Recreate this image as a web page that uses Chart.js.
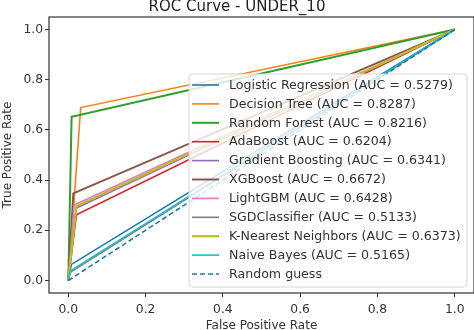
<!DOCTYPE html>
<html>
<head>
<meta charset="utf-8">
<script src="https://cdn.jsdelivr.net/npm/chart.js@4.4.1/dist/chart.umd.min.js"></script>
<style>
  html, body { margin: 0; padding: 0; background: #fff; }
  #wrap { width: 474px; height: 330px; }
</style>
</head>
<body>
<div id="wrap"><canvas id="rocChart"></canvas></div>
<script>
// ROC data
const models = ['Logistic Regression', 'Decision Tree', 'Random Forest', 'AdaBoost',
  'Gradient Boosting', 'XGBoost', 'LightGBM', 'SGDClassifier', 'K-Nearest Neighbors', 'Naive Bayes'];
const aucs = [0.5279, 0.8287, 0.8216, 0.6204, 0.6341, 0.6672, 0.6428, 0.5133, 0.6373, 0.5165];
const fprs = [
  [0, 0.008, 1], [0, 0.032, 1], [0, 0.0085, 1], [0, 0.021, 1], [0, 0.02, 1],
  [0, 0.013, 1], [0, 0.015, 1], [0, 0.005, 1], [0, 0.021, 1], [0, 0.005, 1]
];
const tprs = [
  [0, 0.064, 1], [0, 0.689, 1], [0, 0.652, 1], [0, 0.262, 1], [0, 0.288, 1],
  [0, 0.347, 1], [0, 0.301, 1], [0, 0.032, 1], [0, 0.296, 1], [0, 0.038, 1]
];
const guessX = [0, 1];
const guessY = [0, 1];
const tickValues = [0, 0.2, 0.4, 0.6, 0.8, 1.0];

const colors = ['#1f77b4', '#ff7f0e', '#2ca02c', '#d62728', '#9467bd',
  '#8c564b', '#e377c2', '#7f7f7f', '#bcbd22', '#17becf'];
const widths = [1.6, 1.6, 2, 1.6, 1.6, 2, 1.6, 1.6, 2.2, 1.6];

const FONT = 'DejaVu Sans';
const FS = 12.3;
const TXT = '#333';

const datasets = models.map((m, i) => ({
  label: m + ' (AUC = ' + aucs[i].toFixed(4) + ')',
  data: fprs[i].map((x, j) => ({ x: x, y: tprs[i][j] })),
  borderColor: colors[i],
  borderWidth: widths[i],
  showLine: true,
  pointRadius: 0,
  order: -i
}));
datasets.push({
  label: 'Random guess',
  data: guessX.map((x, j) => ({ x: x, y: guessY[j] })),
  borderColor: '#1f77b4',
  borderWidth: 1.6,
  borderDash: [5, 3],
  showLine: true,
  pointRadius: 0,
  order: -20
});

// axes box + legend inside plot
const boxAndLegend = {
  id: 'boxAndLegend',
  afterDatasetsDraw(chart) {
    const ctx = chart.ctx;
    const a = chart.chartArea;
    ctx.save();
    ctx.strokeStyle = '#333';
    ctx.lineWidth = 1.2;
    ctx.strokeRect(a.left, a.top, a.right - a.left, a.bottom - a.top);

    const bx = 189, by = 74, bw = 278, bh = 213, r = 3;
    ctx.beginPath();
    ctx.roundRect(bx, by, bw, bh, r);
    ctx.fillStyle = 'rgba(255,255,255,0.8)';
    ctx.fill();
    ctx.strokeStyle = '#d6d6d6';
    ctx.lineWidth = 1;
    ctx.stroke();

    ctx.font = '12.6px "' + FONT + '"';
    ctx.textBaseline = 'middle';
    ctx.textAlign = 'left';
    chart.data.datasets.forEach((ds, i) => {
      const y = 85 + i * 18.9;
      ctx.beginPath();
      ctx.setLineDash(ds.borderDash || []);
      ctx.strokeStyle = ds.borderColor;
      ctx.lineWidth = ds.borderWidth;
      ctx.moveTo(192, y);
      ctx.lineTo(219, y);
      ctx.stroke();
      ctx.setLineDash([]);
      ctx.fillStyle = TXT;
      ctx.fillText(ds.label, 229, y + 0.5);
    });
    ctx.restore();
  }
};

new Chart(document.getElementById('rocChart'), {
  type: 'scatter',
  data: { datasets: datasets },
  options: {
    responsive: true,
    maintainAspectRatio: false,
    animation: false,
    layout: { padding: 0 },
    plugins: {
      legend: { display: false },
      tooltip: { enabled: false },
      title: {
        display: true,
        text: 'ROC Curve - UNDER_10',
        color: '#222',
        font: { family: FONT, size: 15, weight: 'normal', lineHeight: 1 },
        padding: { top: 0, bottom: 2 }
      }
    },
    scales: {
      x: {
        type: 'linear',
        min: -0.05,
        max: 1.05,
        afterBuildTicks: s => { s.ticks = tickValues.map(v => ({ value: v })); },
        afterFit: s => { s.height = 37; },
        border: { display: false },
        grid: { drawOnChartArea: false, drawTicks: true, tickLength: 4, color: '#333' },
        ticks: {
          color: TXT, padding: 5,
          font: { family: FONT, size: FS },
          callback: v => v.toFixed(1)
        },
        title: {
          display: true, text: 'False Positive Rate', color: TXT,
          font: { family: FONT, size: 12, lineHeight: 0.7 },
          padding: { top: 0, bottom: 0 }
        }
      },
      y: {
        type: 'linear',
        min: -0.05,
        max: 1.05,
        afterBuildTicks: s => { s.ticks = tickValues.map(v => ({ value: v })); },
        afterFit: s => { s.width = 49; },
        border: { display: false },
        grid: { drawOnChartArea: false, drawTicks: true, tickLength: 4, color: '#333' },
        ticks: {
          color: TXT, padding: 2,
          font: { family: FONT, size: FS },
          callback: v => v.toFixed(1)
        },
        title: {
          display: true, text: 'True Positive Rate', color: TXT,
          font: { family: FONT, size: 12, lineHeight: 1.2 },
          padding: { top: 1, bottom: 0 }
        }
      }
    }
  },
  plugins: [boxAndLegend]
});
</script>
</body>
</html>
